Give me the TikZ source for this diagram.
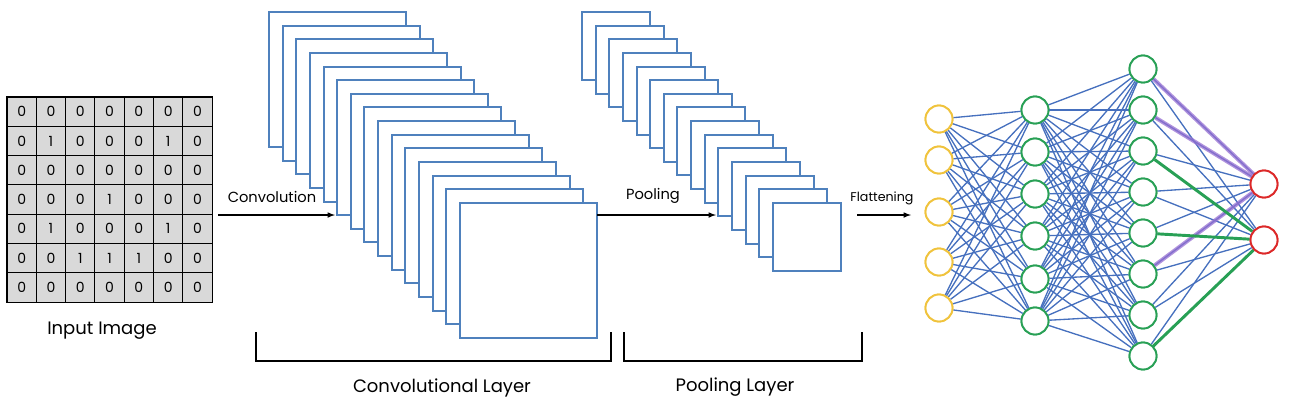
\documentclass[tikz,border=0pt]{standalone}
\usepackage{fontspec}
\setmainfont{Poppins}
\begin{document}
\begin{tikzpicture}[x=0.75pt,y=-0.75pt,
  fmap/.style={draw=boxblue,line width=1.5pt,fill=white},
  cell/.style={draw=black,line width=0.8pt,fill=gray!30,minimum size=29.3*0.75pt,inner sep=0pt,font=\fontsize{10.5}{12}\selectfont},
  lbl/.style={inner sep=1pt},
  big/.style={font=\fontsize{13.5}{15}\selectfont},
  arr/.style={-latex,line width=0.9pt},
  brk/.style={line width=1pt},
  neur/.style={circle,draw,line width=1.4pt,fill=white,minimum size=27*0.75pt,inner sep=0pt},
  wire/.style={draw=netblue,line width=1pt},
]
\definecolor{boxblue}{RGB}{79,129,189}
\definecolor{netblue}{RGB}{70,112,190}
\definecolor{ny}{RGB}{240,195,60}
\definecolor{ng}{RGB}{40,160,85}
\definecolor{nr}{RGB}{220,40,40}
\definecolor{np}{RGB}{150,110,210}
\useasboundingbox (0,0) rectangle (1300,405);
% grid
\foreach \r/\vals in {0/{0,0,0,0,0,0,0},1/{0,1,0,0,0,1,0},2/{0,0,0,0,0,0,0},3/{0,0,0,1,0,0,0},4/{0,1,0,0,0,1,0},5/{0,0,1,1,1,0,0},6/{0,0,0,0,0,0,0}}{
  \foreach \v [count=\c from 0] in \vals {
    \node[cell] (g\r\c) at ({7+14.65+29.3*\c},{97+14.65+29.3*\r}) {\v};
  }
}
\node[big] (inp) at (102,331) {Input Image};
% conv stack
\foreach \i in {0,...,14}{
  \draw[fmap] ({round(269+13.64*\i)},{round(12+13.64*\i)}) rectangle ++(137,135);
}
\coordinate (convin) at (335,215);
\coordinate (convout) at (597,215);
% pooling stack
\foreach \i in {0,...,14}{
  \draw[fmap] ({round(582+13.64*\i)},{round(12+13.64*\i)}) rectangle ++(68,68);
}
\coordinate (poolin) at (716,215);
\coordinate (poolout) at (841,215);
% arrows
\coordinate (a1) at (218,215);
\draw[arr] (a1) -- (convin);
\node[lbl,font=\fontsize{11}{13}\selectfont] (lc) at (272,197) {Convolution};
\draw[arr] (convout) -- (poolin);
\node[lbl,font=\fontsize{11}{13}\selectfont] (lp) at (653,196) {Pooling};
\coordinate (f1) at (857,215);
\coordinate (f2) at (911,215);
\draw[arr] (f1) -- (f2);
\node[lbl,font=\fontsize{9.5}{11}\selectfont] (lf) at (882,198) {Flattening};
% brackets
\draw[brk] (256,332) -- (256,361) -- (611,361) -- (611,332);
\draw[brk] (624,332) -- (624,361) -- (862,361) -- (862,332);
\node[big] (cl) at (442,388) {Convolutional Layer};
\node[big] (pl) at (735,387) {Pooling Layer};
% network
\foreach \y [count=\i] in {119,160,212,262,308} \node[neur,draw=ny] (y\i) at (939,\y) {};
\foreach \y [count=\i] in {110,152,194,236,279,321} \node[neur,draw=ng] (h\i) at (1035,\y) {};
\foreach \y [count=\i] in {69,110,151,192,233,274,315,356} \node[neur,draw=ng] (k\i) at (1143,\y) {};
\node[neur,draw=nr] (o1) at (1264,184) {};
\node[neur,draw=nr] (o2) at (1264,240) {};
\foreach \a in {1,...,5} \foreach \b in {1,...,6} \draw[wire] (y\a) -- (h\b);
\foreach \a in {1,...,6} \foreach \b in {1,...,8} \draw[wire] (h\a) -- (k\b);
\foreach \a in {1,...,8} \foreach \b in {1,2} \draw[wire] (k\a) -- (o\b);
\foreach \a in {1,2,6} \draw[draw=np,opacity=0.75,line width=3pt] (k\a) -- (o1);
\foreach \a in {3,5,8} \draw[draw=ng,line width=2.2pt] (k\a) -- (o2);
% redraw neurons on top
\foreach \y [count=\i] in {119,160,212,262,308} \node[neur,draw=ny] at (939,\y) {};
\foreach \y [count=\i] in {110,152,194,236,279,321} \node[neur,draw=ng] at (1035,\y) {};
\foreach \y [count=\i] in {69,110,151,192,233,274,315,356} \node[neur,draw=ng] at (1143,\y) {};
\node[neur,draw=nr] at (1264,184) {};
\node[neur,draw=nr] at (1264,240) {};
\end{tikzpicture}
\end{document}
